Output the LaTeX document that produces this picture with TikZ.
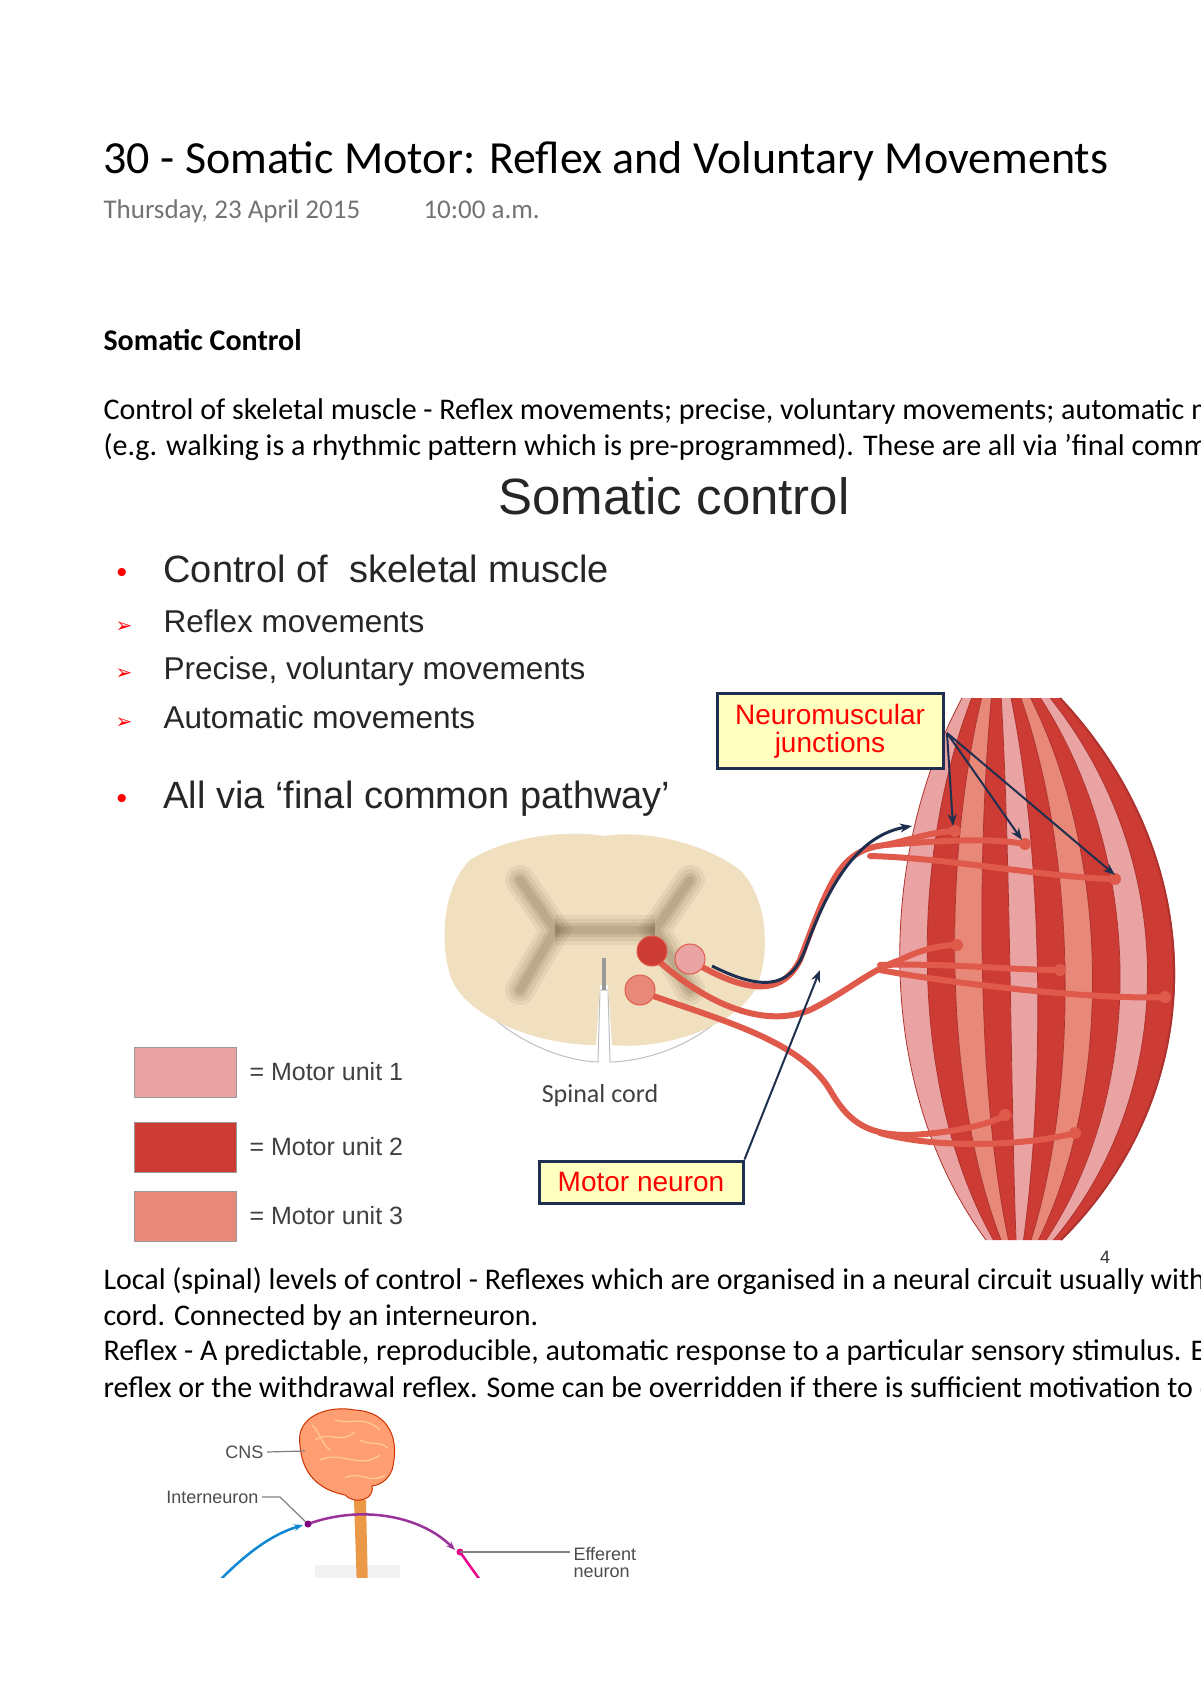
\documentclass[tikz,border=0pt]{standalone}
\usepackage{fontspec}
\setmainfont{Carlito}
\newfontfamily\arial{Liberation Sans}
\newfontfamily\dejavu{DejaVu Sans}
\usetikzlibrary{arrows.meta}
\definecolor{navy}{HTML}{1F2F4F}
\definecolor{lab}{HTML}{FF0000}
\definecolor{boxy}{HTML}{FFFFC0}
\definecolor{mA}{HTML}{EAA3A3}
\definecolor{mB}{HTML}{CD3B35}
\definecolor{mC}{HTML}{E78878}
\definecolor{fib}{HTML}{E05A4C}
\definecolor{beige}{HTML}{F0E0C0}
\tikzset{
 body/.style={anchor=base west,font=\fontsize{30}{34}\selectfont},
 slide/.style={anchor=base west,font=\arial\fontsize{38}{42}\selectfont,text=black!85},
 sub/.style={anchor=base west,font=\arial\fontsize{31.5}{35}\selectfont,text=black!85},
 arr/.style={text=red,font=\dejavu\fontsize{20}{20}\selectfont,anchor=base},
 lbox/.style={draw=navy,line width=3pt,fill=boxy,text=lab,font=\arial\fontsize{28}{30}\selectfont,align=center,inner sep=6pt},
 fiber/.style={draw=fib,line width=6pt,line cap=round},
 pnt/.style={navy,line width=2pt,-{Stealth[length=12pt,width=9pt]}},
 leg/.style={draw=black!40,line width=1pt},
 legt/.style={anchor=west,font=\arial\fontsize{25}{28}\selectfont,text=black!75}
}
\begin{document}
\begin{tikzpicture}[x=1pt,y=-1pt]
\useasboundingbox (0,0) rectangle (1200,1698);
\clip (0,0) rectangle (1200,1698);
\fill[white] (0,0) rectangle (1200,1698);
% header
\node[anchor=base west,font=\fontsize{46}{50}\selectfont] (title) at (100,173) {30 - Somatic Motor: Reflex and Voluntary Movements};
\node[anchor=base west,font=\fontsize{27}{30}\selectfont,text=black!55] (date) at (100,218) {Thursday, 23 April 2015};
\node[anchor=base west,font=\fontsize{27}{30}\selectfont,text=black!55] (time) at (420,218) {10:00 a.m.};
\node[body,font=\bfseries\fontsize{30}{34}\selectfont] (h1) at (100,350) {Somatic Control};
\node[body] (p1) at (100,419) {Control of skeletal muscle - Reflex movements; precise, voluntary movements; automatic movements};
\node[body] (p2) at (100,455) {(e.g. walking is a rhythmic pattern which is pre-programmed). These are all via 'final common pathway'};
% slide
\node[anchor=base,font=\arial\fontsize{51}{55}\selectfont,text=black!85] (st) at (674,514) {Somatic control};
\node[text=red,font=\arial\fontsize{30}{30}\selectfont,anchor=base] (b1) at (122,582) {•};
\node[slide] (t1) at (160,582) {Control of\ \ skeletal muscle};
\node[arr] (a1) at (124,632) {➢};
\node[sub] (t2) at (160,632) {Reflex movements};
\node[arr] (a2) at (124,679) {➢};
\node[sub] (t3) at (160,679) {Precise, voluntary movements};
\node[arr] (a3) at (124,728) {➢};
\node[sub] (t4) at (160,728) {Automatic movements};
\node[text=red,font=\arial\fontsize{30}{30}\selectfont,anchor=base] (b2) at (122,808) {•};
\node[slide] (t5) at (160,808) {All via ‘final common pathway’};
% muscle
\foreach \i/\c in {0/mA,1/mB,2/mC,3/mB,4/mA,5/mB,6/mC,7/mB,8/mA,9/mB}{
 \pgfmathsetmacro{\ta}{\i/10}\pgfmathsetmacro{\tb}{(\i+1)/10}
 \pgfmathsetmacro{\xta}{962+98*\ta}\pgfmathsetmacro{\xba}{986+75*\ta}\pgfmathsetmacro{\xma}{900+275*\ta}
 \pgfmathsetmacro{\xtb}{962+98*\tb}\pgfmathsetmacro{\xbb}{986+75*\tb}\pgfmathsetmacro{\xmb}{900+275*\tb}
 \pgfmathsetmacro{\cca}{(\xma-0.125*(\xta+\xba))/0.75}
 \pgfmathsetmacro{\ccb}{(\xmb-0.125*(\xtb+\xbb))/0.75}
 \fill[\c] (\xta,698) .. controls (\cca,860) and (\cca,1090) .. (\xba,1240)
   -- (\xbb,1240) .. controls (\ccb,1090) and (\ccb,860) .. (\xtb,698) -- cycle;
 \draw[mB!85!black,line width=0.8pt] (\xta,698) .. controls (\cca,860) and (\cca,1090) .. (\xba,1240);
}
\draw[mB!85!black,line width=2pt] (1060,698) .. controls (1212,860) and (1212,1090) .. (1061,1240);
% spinal cord
\draw[black!25,line width=1pt,fill=white] (450,935) .. controls (452,1010) and (540,1060) .. (598,1062) -- (600,990) -- (608,990) -- (610,1062) .. controls (680,1060) and (760,1010) .. (762,935);
\fill[beige] (604,836) .. controls (640,830) and (700,840) .. (740,870) .. controls (770,900) and (770,960) .. (755,990)
 .. controls (730,1030) and (660,1050) .. (612,1045) -- (608,985) -- (600,985) -- (596,1045)
 .. controls (540,1045) and (470,1020) .. (452,980) .. controls (440,950) and (440,890) .. (470,860)
 .. controls (510,835) and (570,830) .. (604,836) -- cycle;
\foreach \w/\o in {30/0.07,22/0.08,14/0.1,8/0.1}{
\draw[black!60!brown,line width=\w pt,line cap=round,opacity=\o] (520,880) -- (555,930) -- (520,990);
\draw[black!60!brown,line width=\w pt,line cap=round,opacity=\o] (690,880) -- (655,930) -- (690,990);
\draw[black!60!brown,line width=\w pt,opacity=\o] (555,930) -- (655,930);
}
\draw[black!40,line width=4pt] (604,958) -- (604,990);
\node[font=\fontsize{26}{28}\selectfont,text=black!75] (sc) at (600,1096) {Spinal cord};
% fibers
\draw[fiber] (690,960) .. controls (740,990) and (780,1000) .. (800,960) .. controls (830,880) and (840,850) .. (885,845) .. controls (910,840) and (930,832) .. (955,831);
\draw[fiber] (885,845) .. controls (950,840) and (990,838) .. (1025,844);
\draw[fiber] (870,856) .. controls (950,858) and (1050,878) .. (1115,879);
\draw[fiber] (652,955) .. controls (700,1000) and (760,1030) .. (810,1010) .. controls (850,990) and (870,970) .. (900,960) .. controls (920,950) and (940,945) .. (957,945);
\draw[fiber] (880,965) .. controls (950,963) and (1010,970) .. (1060,970);
\draw[fiber] (880,970) .. controls (960,985) and (1100,1000) .. (1165,997);
\draw[fiber] (642,992) .. controls (720,1020) and (800,1040) .. (830,1090) .. controls (850,1125) and (870,1135) .. (910,1135) .. controls (950,1133) and (990,1125) .. (1005,1115);
\draw[fiber] (880,1133) .. controls (940,1150) and (1030,1145) .. (1075,1133);
\foreach \p/\c in {{(652,951)}/mB,{(690,959)}/mA,{(640,990)}/mC}
 \node[draw=fib,fill=\c,circle,minimum size=30pt,line width=1pt] at \p {};
\foreach \p in {{(955,831)},{(1025,844)},{(1115,879)},{(957,945)},{(1060,970)},{(1165,997)},{(1005,1115)},{(1075,1133)}}
 \fill[fib] \p circle (6pt);
% labels and arrows
\node[lbox,minimum width=226pt,minimum height=75pt] (nmj) at (830,731) {Neuromuscular\\[-2pt]junctions};
\node[lbox,minimum width=204pt,minimum height=42pt] (mn) at (641,1182) {Motor neuron};
\coordinate (j1) at (953,826);\coordinate (j2) at (1022,840);\coordinate (j3) at (1115,875);
\coordinate (na) at (947,733);
\draw[pnt] (na) -- (j1);
\draw[pnt] (na) -- (j2);
\draw[pnt] (na) -- (j3);
\coordinate (mt) at (820,970);
\draw[pnt] (mn.north east) -- (mt);
\coordinate (s0) at (712,966);\coordinate (s1) at (912,826);
\draw[pnt,line width=3pt] (s0) .. controls (760,990) and (790,990) .. (805,950) .. controls (830,880) and (860,835) .. (s1);
% legend
\node[leg,fill=mA,minimum width=102pt,minimum height=50pt] (l1) at (185,1072) {};
\node[leg,fill=mB,minimum width=102pt,minimum height=50pt] (l2) at (185,1147) {};
\node[leg,fill=mC,minimum width=102pt,minimum height=50pt] (l3) at (185,1216) {};
\node[legt] (lt1) at (246,1072) {= Motor unit 1};
\node[legt] (lt2) at (246,1147) {= Motor unit 2};
\node[legt] (lt3) at (246,1216) {= Motor unit 3};
\node[font=\arial\fontsize{18}{20}\selectfont,text=black!80] (pg) at (1105,1257) {4};
% lower text
\node[body] (q1) at (100,1289) {Local (spinal) levels of control - Reflexes which are organised in a neural circuit usually within the spinal};
\node[body] (q2) at (100,1325) {cord. Connected by an interneuron.};
\node[body] (q3) at (100,1360) {Reflex - A predictable, reproducible, automatic response to a particular sensory stimulus. E.g. the stretch};
\node[body] (q4) at (100,1397) {reflex or the withdrawal reflex. Some can be overridden if there is sufficient motivation to do so.};
% reflex figure
\begin{scope}
\clip (100,1400) rectangle (700,1577);
\fill[black!5] (315,1565) rectangle (400,1600);
\fill[orange!60!brown!80] (354,1500) -- (366,1500) -- (368,1590) -- (357,1590) -- cycle;
\fill[orange!60!red!55,draw=orange!50!red!80!black,line width=1pt] (300,1445) .. controls (295,1415) and (330,1405) .. (355,1410) .. controls (390,1412) and (400,1440) .. (392,1470) .. controls (388,1480) and (380,1485) .. (372,1486) .. controls (375,1500) and (355,1505) .. (345,1495) .. controls (320,1490) and (302,1475) .. (300,1445) -- cycle;
\draw[white!60!orange,line width=1.2pt] (315,1440) .. controls (330,1430) and (340,1445) .. (355,1432) (320,1460) .. controls (340,1450) and (360,1470) .. (380,1455) (345,1478) .. controls (360,1470) and (370,1485) .. (385,1475) (335,1420) .. controls (350,1425) and (365,1415) .. (380,1430) (312,1425) .. controls (320,1432) and (322,1445) .. (330,1450) (360,1440) .. controls (370,1446) and (378,1440) .. (388,1448);
\coordinate (c1) at (305,1451);
\node[font=\arial\fontsize{18}{20}\selectfont,text=black!70,anchor=east] (cns) at (267,1452) {CNS};
\draw[black!50,line width=1.2pt] (cns.east) -- (c1);
\coordinate (in) at (308,1524);
\node[font=\arial\fontsize{18}{20}\selectfont,text=black!70,anchor=east] (inl) at (262,1497) {Interneuron};
\draw[black!50,line width=1.2pt] (inl.east) -- (280,1497) -- (in);
\draw[cyan!70!blue,line width=2.5pt,-{Stealth[length=9pt]}] (220,1580) .. controls (245,1555) and (270,1535) .. (303,1525);
\draw[violet!80,line width=2.5pt,-{Stealth[length=9pt]}] (in) .. controls (360,1505) and (420,1515) .. (455,1550);
\fill[violet] (in) circle (3.5pt);
\coordinate (ef) at (460,1552);
\fill[magenta] (ef) circle (3.5pt);
\draw[magenta,line width=2.5pt] (ef) -- (480,1580);
\node[font=\arial\fontsize{18}{20}\selectfont,text=black!70,anchor=west,align=left] (efl) at (570,1563) {Efferent\\[-3pt]neuron};
\draw[black!50,line width=1.2pt] (ef) -- (570,1552);
\end{scope}
\end{tikzpicture}
\end{document}
